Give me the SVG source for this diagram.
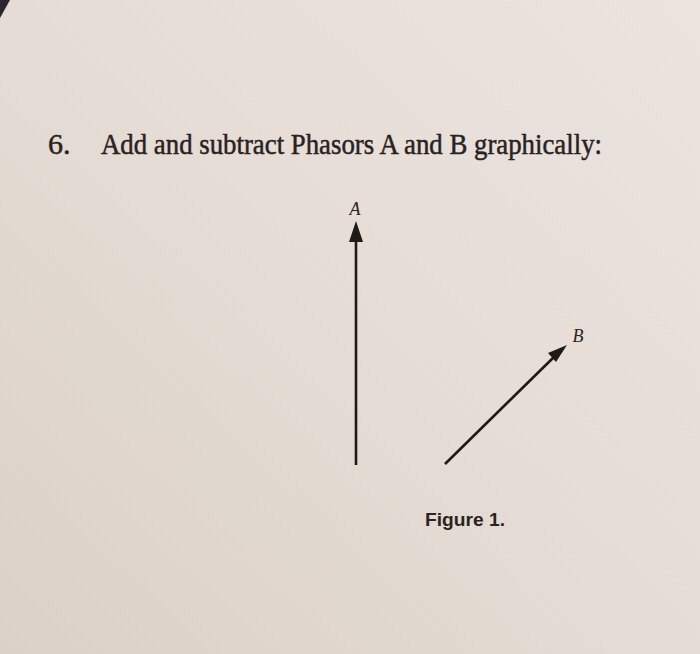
<svg xmlns="http://www.w3.org/2000/svg" width="700" height="654" viewBox="0 0 700 654">
<style>
.title{font-family:"Liberation Serif","DejaVu Serif",serif;font-size:30px;fill:#2a221e;stroke:#2a221e;stroke-width:0.5}
.lbl{font-family:"Liberation Serif","DejaVu Serif",serif;font-style:italic;font-size:18px;fill:#2b2420}
.cap{font-family:"Liberation Sans","Arial",sans-serif;font-weight:bold;font-size:19px;fill:#2b2420}
.vec{stroke:#1e1a18;stroke-width:2.6;fill:none}
.head{fill:#1e1a18}
</style>
<defs>
<linearGradient id="paper" x1="1" y1="0" x2="0" y2="1">
<stop offset="0" stop-color="#ebe4df"/>
<stop offset="0.5" stop-color="#e5dcd5"/>
<stop offset="1" stop-color="#dbd1c8"/>
</linearGradient>
</defs>
<rect x="0" y="0" width="700" height="654" fill="url(#paper)"/>
<polygon points="0,0 10,0 0,18" fill="#2a2530"/>
<g id="title">
<text class="title" x="48" y="154">6.</text>
<text class="title" x="101" y="154" textLength="501" lengthAdjust="spacingAndGlyphs">Add and subtract Phasors A and B graphically:</text>
</g>
<g id="connectors">
<g id="vecA">
<line class="vec" x1="356" y1="465" x2="356" y2="238"/>
<polygon class="head" points="356,221 349,242 363,242"/>
</g>
<g id="vecB">
<line class="vec" x1="445" y1="464" x2="554" y2="357"/>
<polygon class="head" points="567,345 548,353 556,362"/>
</g>
</g>
<g id="labelA"><text class="lbl" x="355" y="215" text-anchor="middle">A</text></g>
<g id="labelB"><text class="lbl" x="578" y="342" text-anchor="middle">B</text></g>
<g id="caption"><text class="cap" x="425" y="526" textLength="80" lengthAdjust="spacingAndGlyphs">Figure 1.</text></g>
</svg>
